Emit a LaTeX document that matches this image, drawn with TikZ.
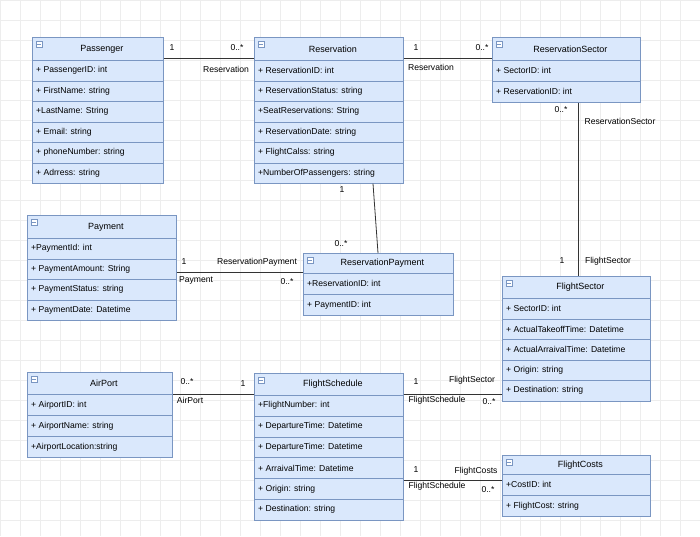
\documentclass[tikz,border=0pt]{standalone}
\usepackage{fontspec}
\setmainfont{Liberation Sans}
\usetikzlibrary{calc}
\begin{document}
\begin{tikzpicture}[x=1pt,y=-1pt,
  box/.style={draw=bdr,fill=bfill,line width=0.7pt,inner sep=0pt,anchor=north west},
  ttl/.style={font=\fontsize{9}{10}\selectfont},
  att/.style={font=\fontsize{8.6}{10}\selectfont,anchor=west,inner sep=0pt},
  lbl/.style={font=\fontsize{8.6}{10}\selectfont,inner sep=0pt},
  con/.style={draw=black!80,line width=0.8pt}]
\definecolor{bfill}{HTML}{DAE8FC}
\definecolor{bdr}{HTML}{7A96C2}
\useasboundingbox (0,0) rectangle (700,536);
\fill[white] (0,0) rectangle (700,536);
\foreach \g in {0,20,...,700} {\draw[black!7,line width=0.4pt] (\g,0) -- (\g,536);}
\foreach \g in {0,20,...,536} {\draw[black!7,line width=0.4pt] (0,\g) -- (700,\g);}
% #1 name #2 x #3 y #4 w #5 header h #6 row h #7 title #8 rows
\newcommand\umlcls[8]{%
  \node[box,minimum width=#4,minimum height=#5] (#1) at (#2,#3) {};
  \node[ttl] at ($(#1.center)+(4,0)$) {#7};
  \draw[bdr,fill=white,line width=0.4pt] (#2+4,#3+4) rectangle (#2+10,#3+10);
  \draw[bdr,line width=0.4pt] (#2+5.3,#3+7) -- (#2+8.7,#3+7);
  \foreach \r [count=\i] in {#8} {
    \node[box,minimum width=#4,minimum height=#6] (#1r\i) at (#2,#3+#5+#6*\i-#6) {};
    \node[att] at ($(#1r\i.west)+(4,0)$) {\r};
  }%
}
\umlcls{pas}{32}{37}{131}{23}{20.5}{Passenger}{{+ PassengerID: int},{+ FirstName: string},{+LastName: String},{+ Email: string},{+ phoneNumber: string},{+ Adrress: string}}
\umlcls{res}{254}{37}{149}{23}{20.5}{Reservation}{{+ ReservationID: int},{+ ReservationStatus: string},{+SeatReservations: String},{+ ReservationDate: string},{+ FlightCalss: string},{+NumberOfPassengers: string}}
\umlcls{rs}{492}{37}{148}{23}{21}{ReservationSector}{{+ SectorID: int},{+ ReservationID: int}}
\umlcls{pay}{27}{215}{149}{23}{20.5}{Payment}{{+PaymentId: int},{+ PaymentAmount: String},{+ PaymentStatus: string},{+ PaymentDate: Datetime}}
\umlcls{rp}{303}{253}{150}{20}{21}{ReservationPayment}{{+ReservationID: int},{+ PaymentID: int}}
\umlcls{fse}{502}{276}{148}{22}{20.5}{FlightSector}{{+ SectorID: int},{+ ActualTakeoffTime: Datetime},{+ ActualArraivalTime: Datetime},{+ Origin: string},{+ Destination: string}}
\umlcls{ap}{27}{372}{145}{22}{21}{AirPort}{{+ AirportID: int},{+ AirportName: string},{+AirportLocation:string}}
\umlcls{fs}{254}{373}{149}{22}{20.8}{FlightSchedule}{{+FlightNumber: int},{+ DepartureTime: Datetime},{+ DepartureTime: Datetime},{+ ArraivalTime: Datetime},{+ Origin: string},{+ Destination: string}}
\umlcls{fc}{502}{455}{148}{19}{21}{FlightCosts}{{+CostID: int},{+ FlightCost: string}}
% connectors
\draw[con] (pas.east |- 0,58) -- (res.west |- 0,58);
\draw[con] (res.east |- 0,58) -- (rs.west |- 0,58);
\draw[con] (rsr2.south -| 578,0) -- (fse.north -| 578,0);
\draw[con] (resr6.south -| 373,0) -- (rp.north -| 378,0);
\draw[con] (payr2.east |- 0,272) -- (rp.west |- 0,272);
\draw[con] (ap.east |- 0,394) -- (fs.west |- 0,394);
\draw[con] (fs.east |- 0,394) -- (fser5.west |- 0,394);
\draw[con] (fsr5.east |- 0,480) -- (fc.west |- 0,480);
% labels
\node[lbl] at (172,48) {1};
\node[lbl] at (237,48) {0..*};
\node[lbl] at (226,69) {Reservation};
\node[lbl] at (416,48) {1};
\node[lbl] at (482,48) {0..*};
\node[lbl] at (431,67) {Reservation};
\node[lbl] at (561,110) {0..*};
\node[lbl] at (620,121) {ReservationSector};
\node[lbl] at (562,261) {1};
\node[lbl] at (608,261) {FlightSector};
\node[lbl] at (342,190) {1};
\node[lbl] at (341,244) {0..*};
\node[lbl] at (184,262) {1};
\node[lbl] at (257,262) {ReservationPayment};
\node[lbl] at (196,280) {Payment};
\node[lbl] at (287,282) {0..*};
\node[lbl] at (187,382) {0..*};
\node[lbl] at (243,384) {1};
\node[lbl] at (190,400) {AirPort};
\node[lbl] at (416,382) {1};
\node[lbl] at (472,380) {FlightSector};
\node[lbl] at (437,400) {FlightSchedule};
\node[lbl] at (489,402) {0..*};
\node[lbl] at (416,470) {1};
\node[lbl] at (476,471) {FlightCosts};
\node[lbl] at (437,486) {FlightSchedule};
\node[lbl] at (488,490) {0..*};
\end{tikzpicture}
\end{document}
